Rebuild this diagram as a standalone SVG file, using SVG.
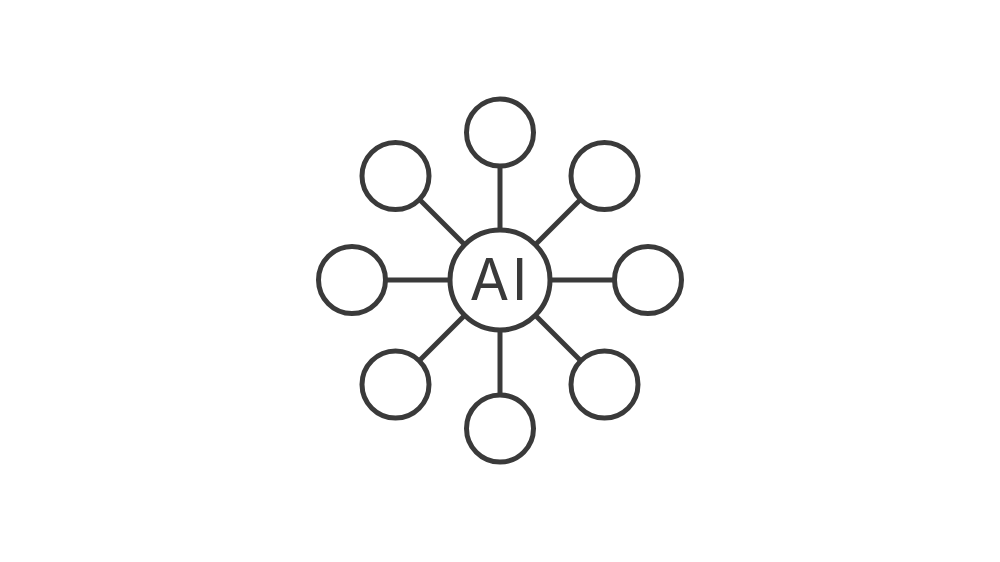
<svg xmlns="http://www.w3.org/2000/svg" width="1000" height="562" viewBox="0 0 1000 562">
  <style>
    .n { fill: #ffffff; stroke: #3a3a3a; stroke-width: 5; }
    .c { stroke: #3a3a3a; stroke-width: 5; fill: none; }
    .t { font-family: Inter, "Liberation Sans", sans-serif; font-size: 57px; font-weight: 400; fill: #3a3a3a; letter-spacing: 3px; }
  </style>
  <rect width="1000" height="562" fill="#ffffff"/>
  <g id="connectors">
    <line class="c" x1="500" y1="229" x2="500" y2="166"/>
    <line class="c" x1="500" y1="331" x2="500" y2="395"/>
    <line class="c" x1="449" y1="280" x2="386" y2="280"/>
    <line class="c" x1="551" y1="280" x2="614" y2="280"/>
    <line class="c" x1="464" y1="244" x2="419" y2="199"/>
    <line class="c" x1="536" y1="244" x2="581" y2="199"/>
    <line class="c" x1="464" y1="316" x2="419" y2="361"/>
    <line class="c" x1="536" y1="316" x2="581" y2="361"/>
  </g>
  <g id="node-ai">
    <circle class="n" cx="500" cy="280" r="50"/>
    <text class="t" x="500" y="300" text-anchor="middle">AI</text>
  </g>
  <g id="node-top"><circle class="n" cx="500" cy="132.5" r="33.5"/></g>
  <g id="node-bottom"><circle class="n" cx="500" cy="428.5" r="33.5"/></g>
  <g id="node-left"><circle class="n" cx="352" cy="280" r="33.5"/></g>
  <g id="node-right"><circle class="n" cx="648" cy="280" r="33.5"/></g>
  <g id="node-top-left"><circle class="n" cx="395.5" cy="176" r="33.5"/></g>
  <g id="node-top-right"><circle class="n" cx="604.5" cy="176" r="33.5"/></g>
  <g id="node-bottom-left"><circle class="n" cx="395.5" cy="384.5" r="33.5"/></g>
  <g id="node-bottom-right"><circle class="n" cx="604.5" cy="384.5" r="33.5"/></g>
</svg>
